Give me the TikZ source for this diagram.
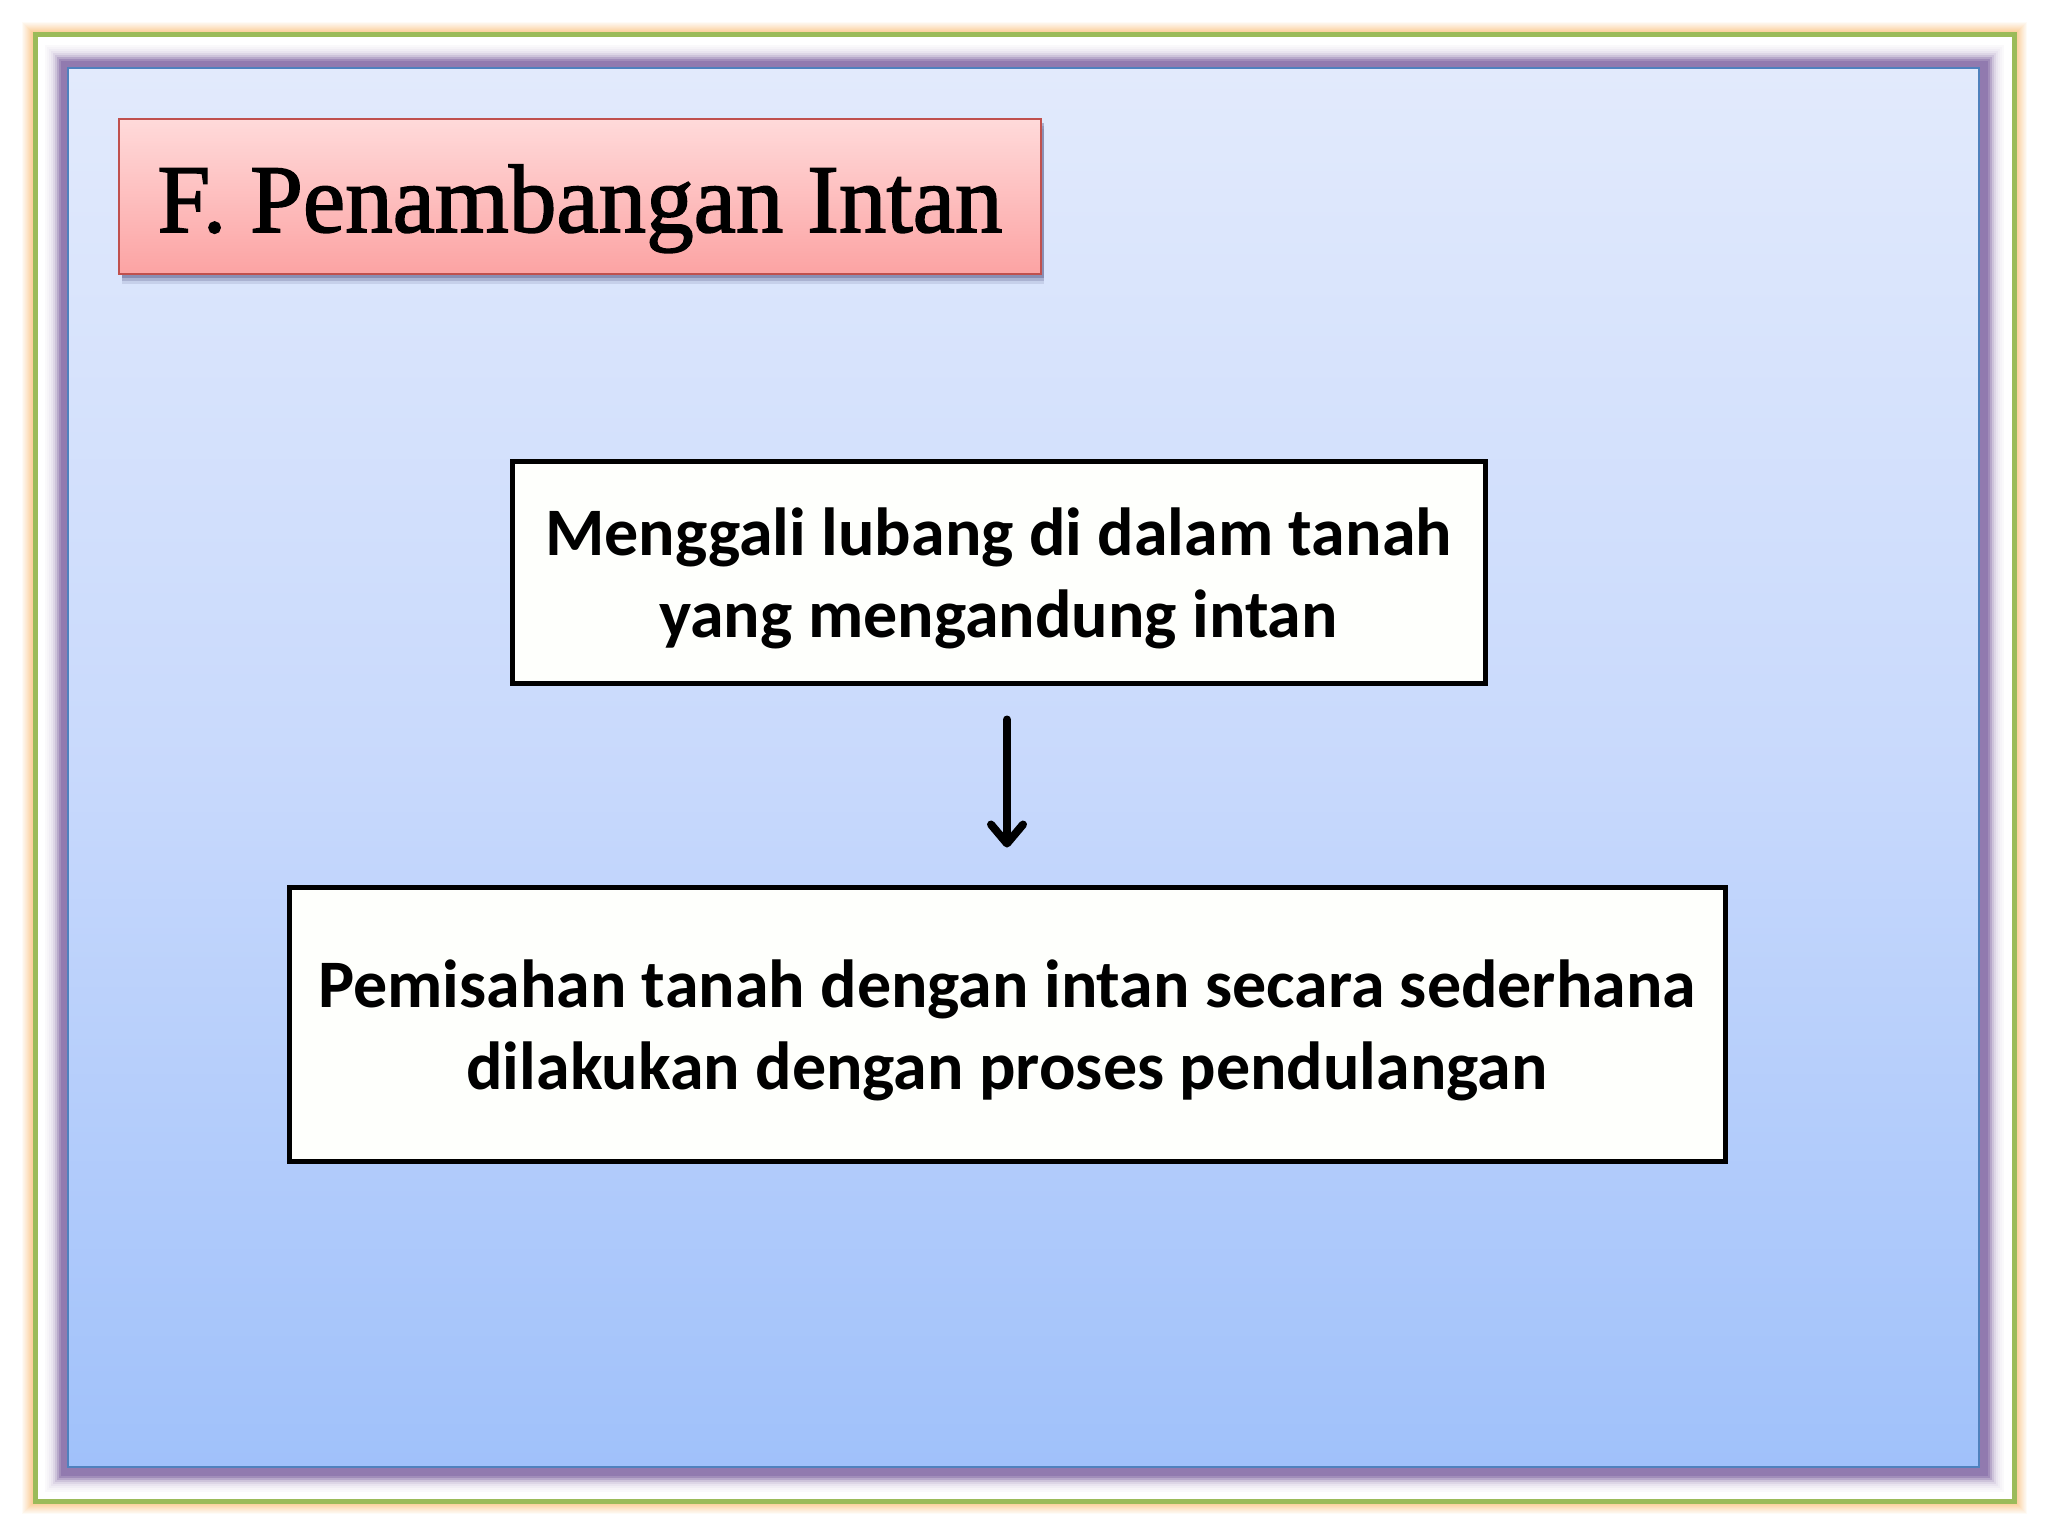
\documentclass[tikz,border=0pt]{standalone}
\usepackage{fontspec}
\newfontfamily\bodyfont{Carlito}
\newfontfamily\titlefont[FakeBold=1.6]{Liberation Serif}
\usetikzlibrary{arrows.meta}
\definecolor{paneltop}{RGB}{226,234,252}
\definecolor{panelmid}{RGB}{200,217,252}
\definecolor{panelbot}{RGB}{160,193,250}
\definecolor{pinktop}{RGB}{255,218,218}
\definecolor{pinkbot}{RGB}{252,163,163}
\definecolor{pinkline}{RGB}{192,80,77}
\definecolor{glowpurple}{RGB}{145,122,175}
\definecolor{frameorange}{RGB}{252,205,150}
\definecolor{framegreen}{RGB}{155,187,89}
\definecolor{panelline}{RGB}{79,129,189}
\definecolor{boxfill}{RGB}{254,255,252}
\tikzset{
  flowbox/.style={draw=black, line width=5pt, fill=boxfill, inner sep=0pt},
  flowtext/.style={font=\bodyfont\bfseries\fontsize{68}{82}\selectfont, align=center, inner sep=0pt},
  flowarrow/.style={draw=black, line width=8pt, line cap=round, -{Straight Barb[length=19pt,width=32pt,line width=8pt,round]}}
}
\begin{document}
\begin{tikzpicture}[x=1pt,y=-1pt]
\useasboundingbox (0,0) rectangle (2048,1536);
\fill[white] (0,0) rectangle (2048,1536);
% outer orange glow
\foreach \d/\o in {12/0.08,11/0.12,10/0.16,9/0.22,8/0.28,7/0.34,6/0.42,5/0.5,4/0.6,3/0.7,2/0.8}{
  \draw[frameorange, opacity=\o, line width=1.2pt] (35-\d,35-\d) rectangle (2014+\d,1501+\d);
}
\draw[framegreen, line width=5pt] (35,35) rectangle (2014,1501);
% purple glow around panel
\foreach \d/\o in {24/0.04,22/0.08,20/0.13,18/0.2,16/0.3,14/0.45,12/0.65,10/0.85,8/1,6/1,4/1,2/1}{
  \draw[glowpurple, opacity=\o, line width=2.2pt] (68-\d+2,68-\d+2) rectangle (1979+\d,1467+\d);
}
% panel
\shade[top color=paneltop, bottom color=panelbot, middle color=panelmid] (68,68) rectangle (1979,1467);
\draw[panelline, line width=2pt] (68,68) rectangle (1979,1467);
% title shadow
\foreach \d/\o in {10/0.15,7/0.25,4/0.4}{
  \fill[black!40!blue!30!gray, opacity=\o] (119+3,119+\d) rectangle (1041+3,274+\d);
}
\shade[top color=pinktop, bottom color=pinkbot, draw=pinkline, line width=2pt] (119,119) rectangle (1041,274);
\node[font=\titlefont\fontsize{97}{110}\selectfont, inner sep=0pt, anchor=base, xscale=0.98] (title) at (580,232) {F. Penambangan Intan};
% boxes
\node[flowbox, minimum width=973pt, minimum height=222pt] (b1) at (998.5,572) {};
\node[flowtext] (t1) at (998.5,578) {Menggali lubang di dalam tanah\\yang mengandung intan};
\node[flowbox, minimum width=1436pt, minimum height=274pt] (b2) at (1007,1024) {};
\node[flowtext] (t2) at (1007,1030) {Pemisahan tanah dengan intan secara sederhana\\dilakukan dengan proses pendulangan};
\draw[flowarrow, shorten <=34pt, shorten >=37pt] (b1.south -| b2.north) -- (b2.north);
\end{tikzpicture}
\end{document}
